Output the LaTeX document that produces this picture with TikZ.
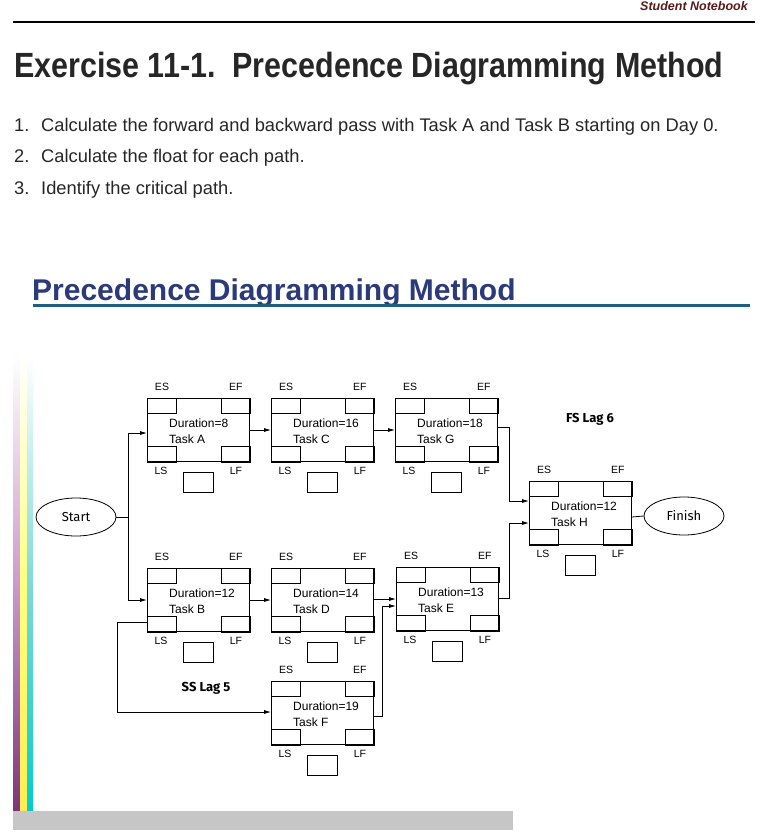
\documentclass[tikz,border=0pt]{standalone}
\usepackage{fontspec}
\setmainfont{Liberation Sans}
\newfontfamily\narrow[FakeStretch=0.87]{Liberation Sans}
\newfontfamily\comic{Fira Sans}
\usetikzlibrary{arrows.meta,shapes.geometric,calc}
\definecolor{navy}{HTML}{2B3A7A}
\definecolor{teal1}{HTML}{1C5F7F}
\definecolor{dred}{HTML}{5A1A1A}
\tikzset{
  taskbox/.style={draw,line width=0.9pt,minimum width=102pt,minimum height=63pt,anchor=north west,inner sep=0},
  cell/.style={draw,line width=0.8pt},
  lbl/.style={font=\fontsize{10.5}{12}\selectfont,inner sep=0},
  dur/.style={font=\fontsize{12}{16}\selectfont,align=left,inner sep=0,anchor=north west},
  conn/.style={line width=0.8pt},
  arr/.style={conn,-{Latex[length=7pt,width=4pt]}},
  oval/.style={draw,ellipse,line width=0.8pt,minimum width=80pt,minimum height=38pt,font=\comic\fontsize{13}{15}\selectfont},
  lag/.style={font=\comic\bfseries\fontsize{13}{15}\selectfont}
}
\newcommand{\tasknode}[5]{%
  \node[taskbox] (#1) at (#2,#3) {};
  \draw[cell] (#1.north west) rectangle ++(29,15);
  \draw[cell] (#1.north east) rectangle ++(-29,15);
  \draw[cell] (#1.south west) rectangle ++(29,-16);
  \draw[cell] (#1.south east) rectangle ++(-29,-16);
  \node[dur] (#1-t) at ($(#1.north west)+(22,20.5)$) {Duration=#4\\Task #5};
  \node[lbl] (#1-es) at ($(#1.north west)+(15,-11)$) {ES};
  \node[lbl] (#1-ef) at ($(#1.north east)+(-14,-11)$) {EF};
  \node[lbl] (#1-ls) at ($(#1.south west)+(14,9)$) {LS};
  \node[lbl] (#1-lf) at ($(#1.south east)+(-14,9)$) {LF};
  \node[draw,line width=0.8pt,minimum width=30pt,minimum height=20pt,inner sep=0,anchor=north west] (#1-fl) at ($(#1.south west)+(36,10)$) {};
}
\begin{document}
\begin{tikzpicture}[x=1pt,y=-1pt]
\useasboundingbox (0,0) rectangle (776,837);
% header
\node[anchor=north east,inner sep=0,font=\bfseries\itshape\fontsize{12.5}{14}\selectfont,text=dred] (hdr) at (748,1) {Student Notebook};
\draw[line width=2pt] (13,22) -- (755,22);
\node[anchor=base west,inner sep=0,font=\narrow\bfseries\fontsize{35}{40}\selectfont,text=black!85] (title) at (14,78) {Exercise 11-1.\ \ Precedence Diagramming Method};
\foreach \n/\t/\y in {1/Calculate the forward and backward pass with Task A and Task B starting on Day 0./132,2/Calculate the float for each path./163,3/Identify the critical path./194}{
  \node[anchor=base west,inner sep=0,font=\fontsize{18.3}{20}\selectfont,text=black!85] (n\n) at (14,\y) {\n.};
  \node[anchor=base west,inner sep=0,font=\fontsize{18.3}{20}\selectfont,text=black!85] (i\n) at (41,\y) {\t};
}
\node[anchor=base west,inner sep=0,font=\bfseries\fontsize{30}{34}\selectfont,text=navy] (sub) at (32,300) {Precedence Diagramming Method};
\draw[teal1,line width=3pt] (33,305) -- (750,305);
% side bars
\shade[top color=white,bottom color=violet!70!black!80,middle color=violet!40] (13,355) rectangle (20,815);
\shade[top color=white,bottom color=yellow!80!orange!70,middle color=yellow!50] (20,355) rectangle (27,815);
\shade[top color=white,bottom color=cyan!60!teal,middle color=cyan!40!teal!50] (27,355) rectangle (33,815);
\fill[gray!45] (13,811) rectangle (513,830);
% tasks
\tasknode{A}{147}{398}{8}{A}
\tasknode{C}{271}{398}{16}{C}
\tasknode{G}{395}{398}{18}{G}
\tasknode{H}{529}{481}{12}{H}
\tasknode{B}{147}{568}{12}{B}
\tasknode{D}{271}{568}{14}{D}
\tasknode{E}{396}{567}{13}{E}
\tasknode{F}{271}{681}{19}{F}
\node[oval] (start) at (76,517) {Start};
\node[oval] (finish) at (684,516) {Finish};
\node[lag] (fs) at (590,419) {FS Lag 6};
\node[lag] (ss) at (206,688) {SS Lag 5};
% connectors
\draw[conn] (start.east) -- (128,517) coordinate (sj);
\draw[arr] (sj) |- (A.west|-0,433);
\draw[arr] (sj) |- (B.west|-0,600);
\draw[arr] (A.east|-0,430) -- (C.west|-0,430);
\draw[arr] (C.east|-0,430) -- (G.west|-0,430);
\draw[arr] (G.east|-0,427) -| (509,501) -- (H.west|-0,501);
\draw[arr] (E.east|-0,598) -| (509,523) -- (H.west|-0,523);
\draw[conn] (H.east|-0,517) -- (finish.west);
\draw[arr] (B.east|-0,600) -- (D.west|-0,600);
\draw[arr] (D.east|-0,599) -- (E.west|-0,599);
\draw[arr] (F.east|-0,716) -| (382,606) -- (E.west|-0,606);
\draw[arr] (B.west|-0,622) -- (117,622) |- (F.west|-0,712);
\end{tikzpicture}
\end{document}
